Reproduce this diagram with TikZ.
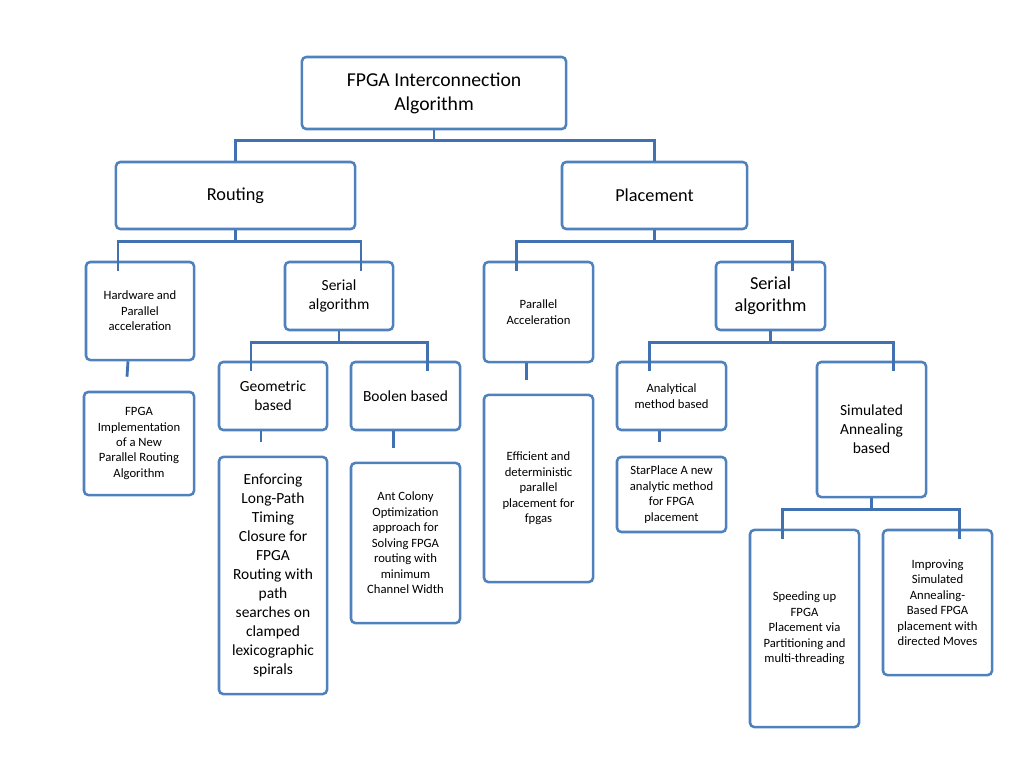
\documentclass[tikz,border=0pt]{standalone}
\usepackage{fontspec}
\setmainfont{Carlito}
\usetikzlibrary{positioning}
\definecolor{boxblue}{RGB}{79,129,189}
\definecolor{linkblue}{RGB}{65,113,176}
\tikzset{
  box/.style={draw=boxblue,line width=1.8pt,rounded corners=3pt,fill=white,
    align=center,inner sep=1pt,text=black},
  sm/.style={font=\fontsize{9}{11}\selectfont},
  md/.style={font=\fontsize{11}{13.5}\selectfont},
  lg/.style={font=\fontsize{13}{15.5}\selectfont},
  link/.style={draw=linkblue,line width=2pt},
}
\begin{document}
\begin{tikzpicture}[x=0.025cm,y=-0.025cm]
\useasboundingbox (0,0) rectangle (1024,768);
% top levels
\node[box,font=\fontsize{14}{17}\selectfont,minimum width=6.6cm,minimum height=1.8cm] (algo) at (434,93) {FPGA Interconnection\\Algorithm};
\node[box,lg,minimum width=5.975cm,minimum height=1.675cm] (routing) at (235.5,195.5) {Routing};
\node[box,lg,minimum width=4.625cm,minimum height=1.675cm] (placement) at (654.5,195.5) {Placement};
% routing branch
\node[box,sm,minimum width=2.7cm,minimum height=2.45cm] (hwpar) at (140,311) {Hardware and\\Parallel\\acceleration};
\node[box,md,minimum width=2.7cm,minimum height=1.7cm] (serialL) at (339,296) {Serial\\algorithm};
\node[box,sm,minimum width=2.75cm,minimum height=2.575cm] (fpgaimpl) at (139,443.5) {FPGA\\Implementation\\of a New\\Parallel Routing\\Algorithm};
\node[box,md,minimum width=2.7cm,minimum height=1.7cm] (geom) at (273,396) {Geometric\\based};
\node[box,md,minimum width=2.725cm,minimum height=1.7cm] (bool) at (405.5,396) {Boolen based};
\node[box,md,minimum width=2.7cm,minimum height=5.925cm] (enforce) at (273,575.5) {Enforcing\\Long-Path\\Timing\\Closure for\\FPGA\\Routing with\\path\\searches on\\clamped\\lexicographic\\spirals};
\node[box,sm,minimum width=2.725cm,minimum height=4cm] (antcol) at (405.5,543) {Ant Colony\\Optimization\\approach for\\Solving FPGA\\routing with\\minimum\\Channel Width};
% placement branch
\node[box,sm,minimum width=2.725cm,minimum height=2.5cm] (paracc) at (538.5,312) {Parallel\\Acceleration};
\node[box,lg,minimum width=2.725cm,minimum height=1.7cm] (serialR) at (770.5,296) {Serial\\algorithm};
\node[box,sm,minimum width=2.725cm,minimum height=4.675cm] (effic) at (538.5,488.5) {Efficient and\\deterministic\\parallel\\placement for\\fpgas};
\node[box,sm,minimum width=2.725cm,minimum height=1.7cm] (analyt) at (671.5,396) {Analytical\\method based};
\node[box,sm,minimum width=2.725cm,minimum height=1.875cm] (starpl) at (671.5,494.5) {StarPlace A new\\analytic method\\for FPGA\\placement};
\node[box,md,minimum width=2.725cm,minimum height=3.375cm] (simann) at (871.5,429.5) {Simulated\\Annealing\\based};
\node[box,sm,minimum width=2.725cm,minimum height=4.925cm] (speed) at (804.5,628.5) {Speeding up\\FPGA\\Placement via\\Partitioning and\\multi-threading};
\node[box,sm,minimum width=2.725cm,minimum height=3.625cm] (improv) at (937.5,602.5) {Improving\\Simulated\\Annealing-\\Based FPGA\\placement with\\directed Moves};
% brackets
\foreach \p/\a/\b in {algo/routing/placement}{
  \draw[link] (\p.south) -- ++(0,10) coordinate (\p-m);
  \draw[link] (\p-m) -| (\a.north);
  \draw[link] (\p-m) -| (\b.north);
}
\foreach \p/\a/\b in {routing/hwpar/serialL,placement/paracc/serialR,serialL/geom/bool,serialR/analyt/simann,simann/speed/improv}{
  \draw[link] (\p.south) -- ++(0,11) coordinate (\p-m);
  \draw[link] (\p-m) -| ([xshift=-0.55cm,yshift=-0.25cm]\a.north);
  \draw[link] (\p-m) -| ([xshift=0.55cm,yshift=-0.25cm]\b.north);
}
% single links
\foreach \a/\b in {hwpar/fpgaimpl,geom/enforce,bool/antcol,paracc/effic,analyt/starpl}{
  \draw[link] ([xshift=-0.3cm]\a.south) -- ([xshift=-0.3cm,yshift=0.35cm]\b.north);
}
\end{tikzpicture}
\end{document}
